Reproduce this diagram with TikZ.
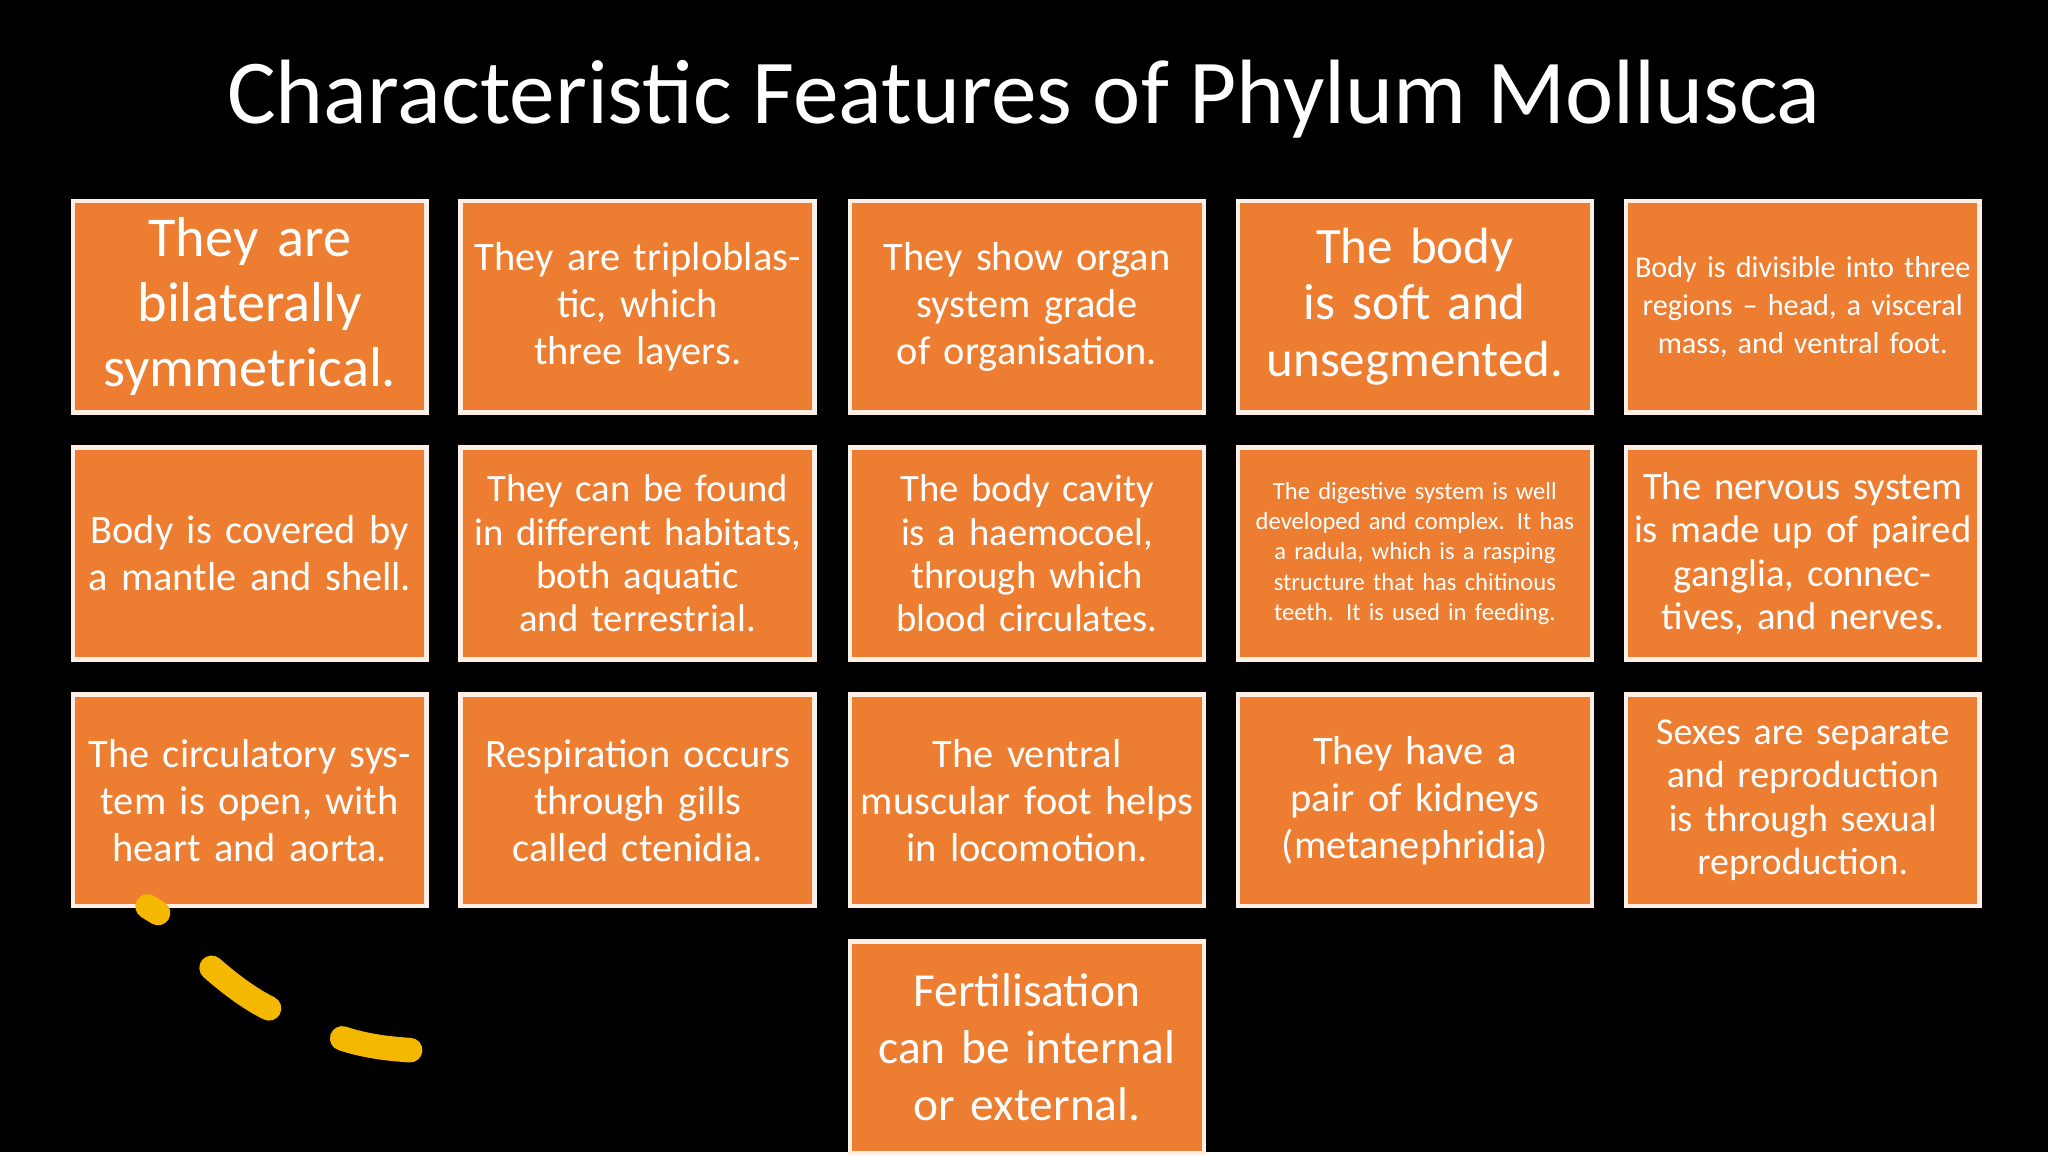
\documentclass[tikz,border=0pt]{standalone}
\usepackage{fontspec}
\setmainfont{Carlito}
\definecolor{boxor}{HTML}{ED7D31}
\definecolor{penyel}{HTML}{F5B800}
\begin{document}
\begin{tikzpicture}[x=0.013061cm,y=-0.013061cm,
  card/.style={draw=white!88!boxor,line width=1.3pt,fill=boxor,text=white,minimum width=271*0.013061cm,minimum height=162*0.013061cm,align=center,text width=262*0.013061cm,inner sep=0pt,anchor=north west},
  big/.style={font=\fontsize{16}{18.5}\selectfont},
  mid/.style={font=\fontsize{11.5}{13.4}\selectfont},
  med/.style={font=\fontsize{12.5}{14.6}\selectfont},
  sm/.style={font=\fontsize{8.6}{10.8}\selectfont},
  tiny/.style={font=\fontsize{7}{8.6}\selectfont},
  pen/.style={penyel,line width=7pt,line cap=round}]
\fill[black] (0,0) rectangle (1568,882);
\node[text=white,font=\fontsize{26}{30}\selectfont] (title) at (784,76) {Characteristic Features of Phylum Mollusca};
% row 1
\node[card,big] (a1) at (54,152) {They are bilaterally symmetrical.};
\node[card,mid] (a2) at (351,152) {They are triploblastic, which three layers.};
\node[card,mid] (a3) at (649,152) {They show organ system grade of organisation.};
\node[card,big,font=\fontsize{14.5}{16.2}\selectfont] (a4) at (946,152) {The body is soft and unsegmented.};
\node[card,sm] (a5) at (1243,152) {Body is divisible into three regions -- head, a visceral mass, and ventral foot.};
% row 2
\node[card,mid] (b1) at (54,341) {Body is covered by a mantle and shell.};
\node[card,mid,font=\fontsize{11}{12.3}\selectfont] (b2) at (351,341) {They can be found in different habitats, both aquatic and terrestrial.};
\node[card,mid,font=\fontsize{11}{12.3}\selectfont] (b3) at (649,341) {The body cavity is a haemocoel, through which blood circulates.};
\node[card,tiny] (b4) at (946,341) {The digestive system is well developed and complex. It has a radula, which is a rasping structure that has chitinous teeth. It is used in feeding.};
\node[card,mid,font=\fontsize{11}{12.3}\selectfont] (b5) at (1243,341) {The nervous system is made up of paired ganglia, connectives, and nerves.};
% row 3
\node[card,mid] (c1) at (54,530) {The circulatory system is open, with heart and aorta.};
\node[card,mid] (c2) at (351,530) {Respiration occurs through gills called ctenidia.};
\node[card,mid] (c3) at (649,530) {The ventral muscular foot helps in locomotion.};
\node[card,mid] (c4) at (946,530) {They have a pair of kidneys (metanephridia)};
\node[card,mid,font=\fontsize{10.8}{12.3}\selectfont] (c5) at (1243,530) {Sexes are separate and reproduction is through sexual reproduction.};
% row 4
\node[card,med,font=\fontsize{13.5}{16.2}\selectfont] (d3) at (649,719) {Fertilisation can be internal or external.};
% pen strokes
\draw[pen] (113,694) -- (121,699);
\draw[pen] (162,741) .. controls (178,755) and (192,765) .. (206,772);
\draw[pen] (262,795) .. controls (280,801) and (298,803) .. (314,804);
\useasboundingbox (0,0) rectangle (1568,882);
\end{tikzpicture}
\end{document}
